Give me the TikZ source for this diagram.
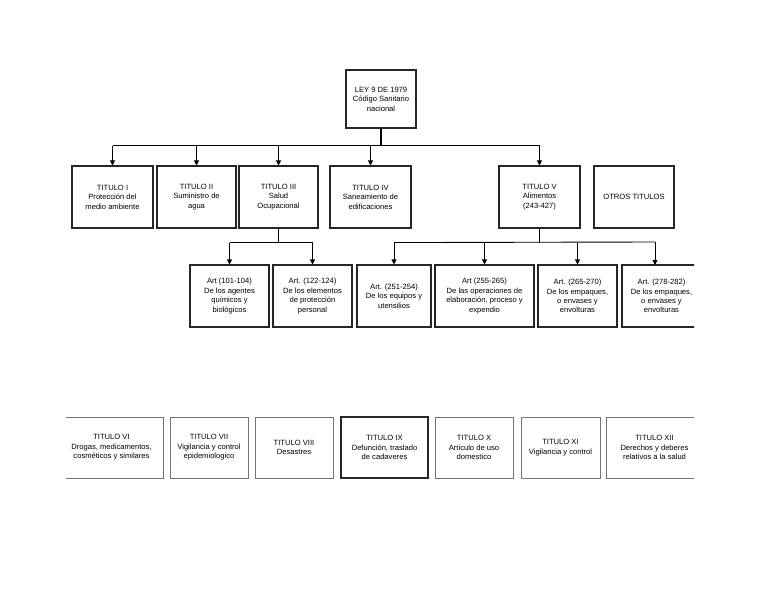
\documentclass[tikz,border=0pt]{standalone}
\usepackage{fontspec}
\setmainfont{Liberation Sans}
\usetikzlibrary{arrows.meta}
\begin{document}
\begin{tikzpicture}[x=1pt,y=-1pt,
  bx/.style={draw=black!85,line width=1.1pt,align=center,inner sep=0pt,font=\fontsize{7.6}{9.4}\selectfont},
  lbx/.style={draw=black!55,line width=0.8pt,align=center,inner sep=0pt,font=\fontsize{7.6}{9.4}\selectfont},
  ar/.style={-{Triangle[length=5pt,width=5pt]},line width=0.9pt}]
\useasboundingbox (0,0) rectangle (768,594);
\newcommand{\bxat}[6]{\node[#1,minimum width=#4-#3,minimum height=#6-#5] (#2) at ({(#3+#4)/2},{(#5+#6)/2})}
\begin{scope}
\clip (66,70) rectangle (694,500);
\bxat{bx}{top}{346}{416}{70}{128} {LEY 9 DE 1979\\Código Sanitario\\nacional};
\bxat{bx}{t1}{72}{153}{166}{228} {TITULO I\\Protección del\\medio ambiente};
\bxat{bx}{t2}{157}{236}{166}{228} {TITULO II\\Suministro de\\agua};
\bxat{bx}{t3}{239}{318}{166}{228} {TITULO III\\Salud\\Ocupacional};
\bxat{bx}{t4}{330}{411}{166}{228} {TITULO IV\\Saneamiento de\\edificaciones};
\bxat{bx}{t5}{499}{580}{166}{228} {TITULO V\\Alimentos\\(243-427)};
\bxat{bx}{t6}{594}{674}{166}{228} {OTROS TITULOS};
\bxat{bx}{a1}{190}{269}{265}{327} {Art (101-104)\\De los agentes\\químicos y\\biológicos};
\bxat{bx}{a2}{273}{352}{265}{327} {Art. (122-124)\\De los elementos\\de protección\\personal};
\bxat{bx}{b1}{357}{431}{265}{327} {Art. (251-254)\\De los equipos y\\utensilios};
\bxat{bx}{b2}{435}{534}{265}{327} {Art (255-265)\\De las operaciones de\\elaboración, proceso y\\expendio};
\bxat{bx}{b3}{538}{617}{265}{327} {Art. (265-270)\\De los empaques,\\o envases y\\envolturas};
\bxat{bx}{b4}{622}{701}{265}{327} {Art. (278-282)\\De los empaques,\\o envases y\\envolturas};
\bxat{lbx}{c1}{60}{163}{417}{478} {TITULO VI\\Drogas, medicamentos,\\cosméticos y similares};
\bxat{lbx}{c2}{170}{248}{417}{478} {TITULO VII\\Vigilancia y control\\epidemiologico};
\bxat{lbx}{c3}{255}{333}{417}{478} {TITULO VIII\\Desastres};
\bxat{bx}{c4}{341}{428}{417}{478} {TITULO IX\\Defunción, traslado\\de cadaveres};
\bxat{lbx}{c5}{435}{513}{417}{478} {TITULO X\\Articulo de uso\\domestico};
\bxat{lbx}{c6}{521}{600}{417}{478} {TITULO XI\\Vigilancia y control};
\bxat{lbx}{c7}{606}{703}{417}{478} {TITULO XII\\Derechos y deberes\\relativos a la salud};
\draw[line width=1.2pt] (top.south) -- ++(0,17) coordinate (h0);
\draw[line width=0.9pt] (h0 -| t1.north) -- (h0 -| t5.north);
\foreach \t in {t1,t2,t3,t4,t5} \draw[ar] (h0 -| \t.north) -- (\t.north);
\draw[line width=0.9pt] (t3.south) -- ++(0,14) coordinate (h1);
\draw[line width=0.9pt] (h1 -| a1.north) -- (h1 -| a2.north);
\foreach \t in {a1,a2} \draw[ar] (h1 -| \t.north) -- (\t.north);
\draw[line width=0.9pt] (t5.south) -- ++(0,14) coordinate (h2);
\draw[line width=0.9pt] (h2 -| b1.north) -- (655,242) coordinate (h3);
\foreach \t in {b1,b2,b3} \draw[ar] (h2 -| \t.north) -- (\t.north);
\draw[ar] (h3) -- (655,265);
\end{scope}
\end{tikzpicture}
\end{document}
